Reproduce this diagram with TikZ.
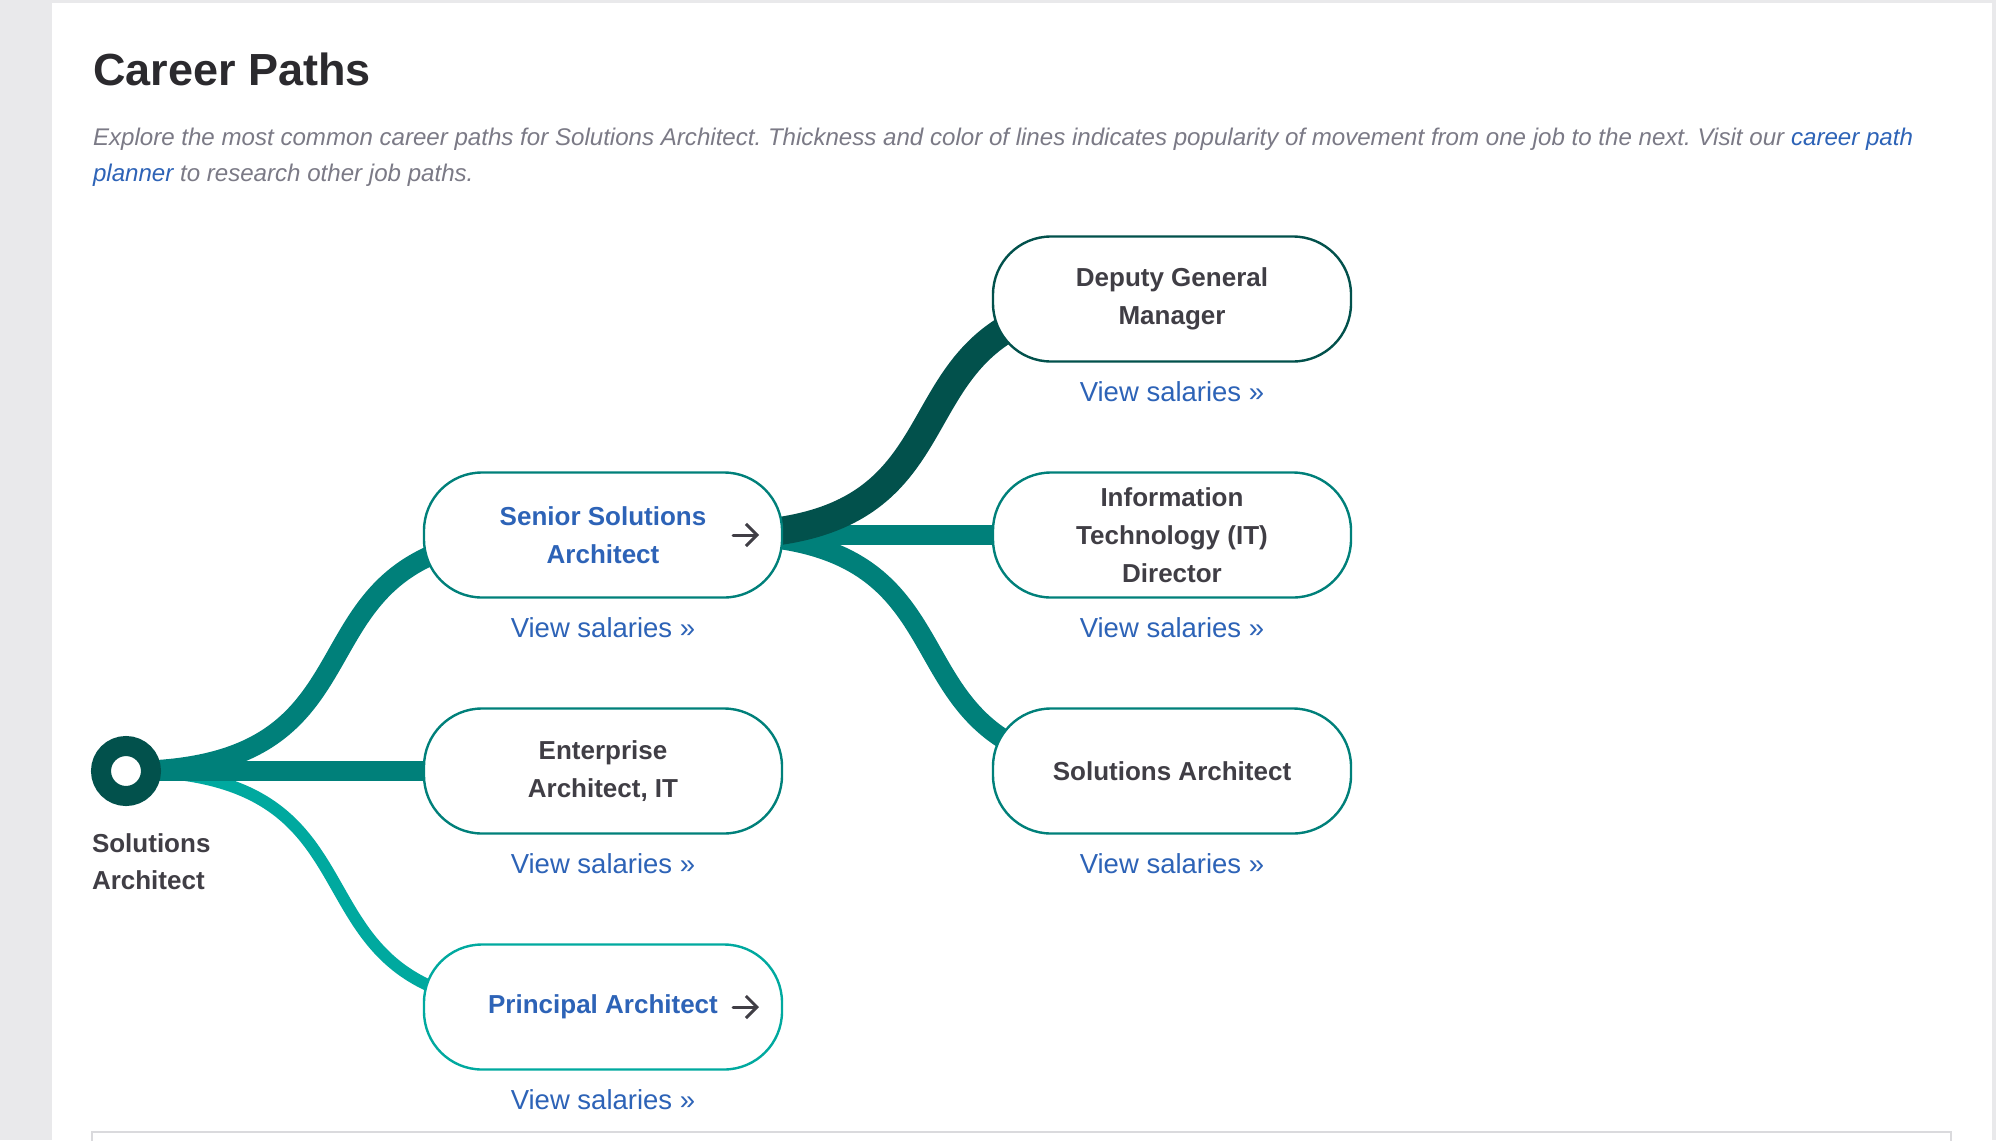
\documentclass[tikz,border=0pt]{standalone}
\usepackage{fontspec}
\setmainfont{Liberation Sans}
\usetikzlibrary{arrows.meta, positioning, backgrounds}
\definecolor{pathteal}{HTML}{00807A}
\definecolor{pathdark}{HTML}{02514C}
\definecolor{pathlight}{HTML}{00A99F}
\definecolor{inkdark}{HTML}{403E45}
\definecolor{titleink}{HTML}{2B2A2E}
\definecolor{linkblue}{HTML}{2D63B7}
\definecolor{subgray}{HTML}{7B7A86}
\definecolor{pagegray}{HTML}{E9E9EB}
\definecolor{rulegray}{HTML}{DADADD}
\frenchspacing

\begin{document}
\begin{tikzpicture}[
    x=0.5pt, y=0.5pt,
    every node/.style={inner sep=0pt, outer sep=0pt},
    job/.style={rectangle, rounded corners=29pt, draw=pathteal, line width=1.2pt,
                fill=white, minimum width=179pt, minimum height=62.5pt,
                align=center, text=inkdark, font=\bfseries\fontsize{13}{19}\selectfont},
    joblink/.style={job, text=linkblue},
    salary/.style={text=linkblue, font=\fontsize{13.75}{16}\selectfont},
    rootdot/.style={circle, draw=pathdark, line width=10pt, fill=white, minimum size=25pt},
    hop/.style={line width=10pt, draw=pathteal},
    hopdark/.style={line width=14pt, draw=pathdark},
    hoplight/.style={line width=6pt, draw=pathlight},
    goicon/.style={-{Straight Barb[length=5.5pt, width=11pt]}, line width=1.5pt,
                   draw=inkdark, line cap=round}
]
\useasboundingbox (0,0) rectangle (1996,-1140);

% page
\begin{scope}[on background layer]
\fill[pagegray] (0,0) rectangle (1996,-1140);
\fill[white] (52,-3) rectangle (1992,-1140);
\draw[rulegray, line width=1pt] (92,-1145) |- (1951,-1132) -- (1951,-1145);
\end{scope}

% heading
\node[anchor=base west, text=titleink, font=\bfseries\fontsize{22.5}{27}\selectfont] (title)
    at (93,-85) {Career Paths};
\node[anchor=base west, align=left, text=subgray, font=\itshape\fontsize{12.05}{18}\selectfont] (intro)
    at (93,-181) {Explore the most common career paths for Solutions Architect. Thickness and color of lines indicates popularity of movement from one job to the next. Visit our \textcolor{linkblue}{career path}\\
    \textcolor{linkblue}{planner} to research other job paths.};

% Nodes
\node[rootdot] (root) at (126,-771) {};
\node[anchor=north west, align=left, text=inkdark, font=\bfseries\fontsize{13}{18.5}\selectfont] (rootlbl)
    at (92,-834) {Solutions\\Architect};

\node[job, right=149pt of root.center] (ent) {Enterprise\\Architect, IT};
\node[joblink, above=55.5pt of ent] (sen) {Senior Solutions\\Architect};
\node[joblink, draw=pathlight, below=55.5pt of ent] (pri) {Principal Architect};

\node[job, right=105.5pt of ent] (sol) {Solutions Architect};
\node[job, above=55.5pt of sol] (itd) {Information\\Technology (IT)\\Director};
\node[job, draw=pathdark, above=55.5pt of itd] (dgm) {Deputy General\\Manager};

\node[salary, below=10pt of sen] (vsen) {View salaries »};
\node[salary, below=10pt of ent] (vent) {View salaries »};
\node[salary, below=10pt of pri] (vpri) {View salaries »};
\node[salary, below=10pt of dgm] (vdgm) {View salaries »};
\node[salary, below=10pt of itd] (vitd) {View salaries »};
\node[salary, below=10pt of sol] (vsol) {View salaries »};

\draw[goicon] ([xshift=-24.5pt]sen.east) -- ([xshift=-11.5pt]sen.east);
\draw[goicon] ([xshift=-24.5pt]pri.east) -- ([xshift=-11.5pt]pri.east);

% Paths
\begin{scope}[on background layer]
\draw[hoplight] (root.center) .. controls +(290,0) and +(-290,0) .. ([xshift=63pt]pri.west);
\draw[hop] (root.center) .. controls +(290,0) and +(-290,0) .. ([xshift=63pt]sen.west);
\draw[hop] (root.center) -- (ent.west);
\draw[hop] ([xshift=-31pt]sen.east) .. controls +(290,0) and +(-290,0) .. ([xshift=75.5pt]sol.west);
\draw[hop] (sen.east) -- (itd.west);
\draw[hopdark] ([xshift=-31pt]sen.east) .. controls +(290,0) and +(-290,0) .. ([xshift=75.5pt]dgm.west);
\end{scope}

\end{tikzpicture}
\end{document}
